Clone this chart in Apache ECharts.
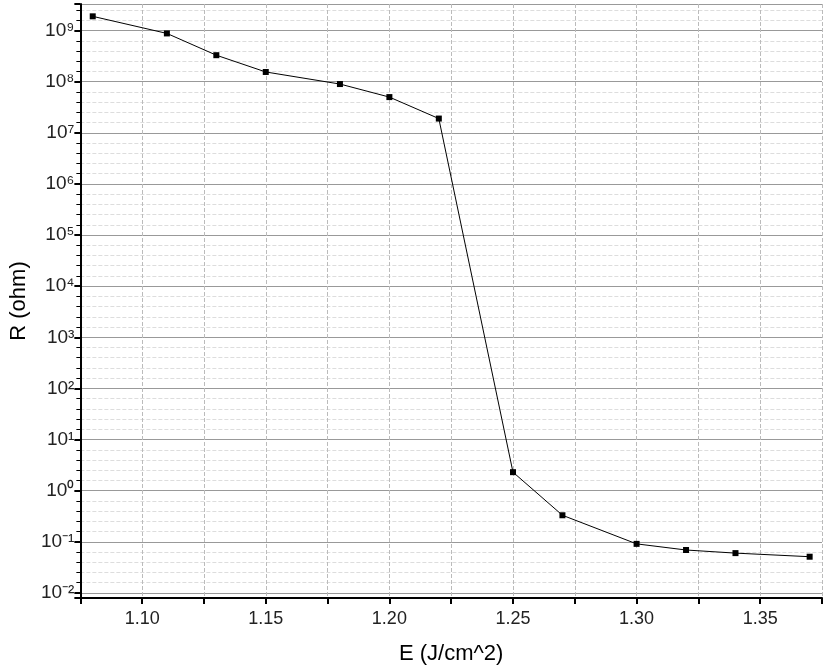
<!DOCTYPE html>
<html><head><meta charset="utf-8">
<script src="https://cdn.jsdelivr.net/npm/echarts@6/dist/echarts.min.js"></script>
<style>html,body{margin:0;background:#fff}#c{width:825px;height:670px}</style>
</head><body><div id="c"></div>
<script>
const energies = [1.08, 1.11, 1.13, 1.15, 1.18, 1.20, 1.22, 1.25, 1.27, 1.30, 1.32, 1.34, 1.37];
const resistances = [1.9e9, 8.8e8, 3.3e8, 1.55e8, 9e7, 5e7, 1.9e7, 2.3, 0.33, 0.091, 0.069, 0.060, 0.051];
const supMap = { '-': '⁻', '0': '⁰', '1': '¹', '2': '²', '3': '³', '4': '⁴', '5': '⁵', '6': '⁶', '7': '⁷', '8': '⁸', '9': '⁹' };

const chart = echarts.init(document.getElementById('c'));
chart.setOption({
  animation: false,
  grid: { left: 73, right: 3, top: 4, bottom: 66 },
  xAxis: {
    type: 'value', min: 1.075, max: 1.375, interval: 0.025,
    name: 'E (J/cm^2)', nameLocation: 'middle', nameGap: 45,
    nameTextStyle: { fontSize: 22, color: '#000', fontFamily: 'Liberation Sans' },
    axisLine: { onZero: false, lineStyle: { color: '#000', width: 2 } },
    axisTick: { length: 6, lineStyle: { color: '#000', width: 2 } },
    axisLabel: {
      fontSize: 18, color: '#222', fontFamily: 'Liberation Sans', margin: 12,
      formatter: v => (Math.round(v * 1000) % 50 === 0 ? v.toFixed(2) : '')
    },
    splitLine: { show: true, lineStyle: { color: '#bbb', type: 'dashed', width: 1 } }
  },
  yAxis: {
    // log10 scale: values are mapped through Math.log10 below
    type: 'value', min: -2.1, max: 9.52, splitNumber: 12,
    name: 'R (ohm)', nameLocation: 'middle', nameGap: 50, nameRotate: 90,
    nameTextStyle: { fontSize: 22, color: '#000', fontFamily: 'Liberation Sans' },
    axisLine: { show: true, lineStyle: { color: '#000', width: 2 } },
    axisTick: { show: true, length: 6, lineStyle: { color: '#000', width: 2 } },
    minorTick: { show: true, splitNumber: 5, length: 4, lineStyle: { color: '#000' } },
    axisLabel: {
      fontSize: 19, color: '#222', fontFamily: 'Liberation Sans', margin: 6,
      formatter: v => Number.isInteger(Math.round(v * 100) / 100) && Math.abs(v - Math.round(v)) < 0.01
        ? '10' + String(Math.round(v)).split('').map(ch => supMap[ch]).join('') : ''
    },
    splitLine: { show: true, lineStyle: { color: '#999', width: 1 } },
    minorSplitLine: { show: true, lineStyle: { color: '#ddd', type: 'dashed' } }
  },
  series: [{
    type: 'line', data: energies.map((e, i) => [e, Math.log10(resistances[i])]),
    symbol: 'rect', symbolSize: 6,
    lineStyle: { color: '#000', width: 1 }, itemStyle: { color: '#000' }
  }]
});
</script></body></html>
